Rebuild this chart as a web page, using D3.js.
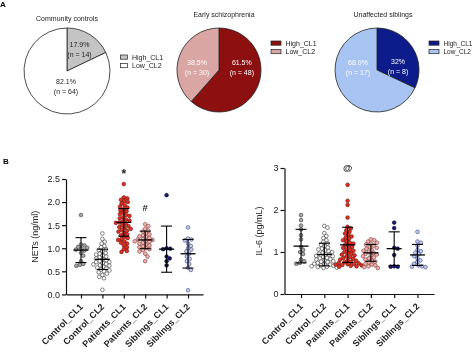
<!DOCTYPE html>
<html><head><meta charset="utf-8">
<script src="https://cdn.jsdelivr.net/npm/d3@7"></script>
<style>
body{margin:0;background:#fff}
svg{display:block;font-family:"Liberation Sans",Arial,Helvetica,sans-serif;will-change:transform}
</style>
</head><body>
<svg id="chart" width="474" height="356"></svg>
<script>
// ---------------- DATA ----------------
const pieTitles = ["Community controls", "Early schizophrenia", "Unaffected siblings"];
const pieHigh = [17.9, 61.5, 32.0];
const pieLow = [82.1, 38.5, 68.0];
const pieHighLabel = ["17.9%", "61.5%", "32%"];
const pieLowLabel = ["82.1%", "38.5%", "68.0%"];
const pieHighN = [14, 48, 8];
const pieLowN = [64, 30, 17];
const legendLabels = ["High_CL1", "Low_CL2"];

const categories = ["Control_CL1", "Control_CL2", "Patients_CL1", "Patients_CL2", "Siblings_CL1", "Siblings_CL2"];

const netsControlCL1 = [1.72, 1.08, 1.06, 1.03, 1.01, 0.99, 0.97, 0.95, 0.90, 0.84, 0.72, 0.66, 0.64, 0.62];
const netsControlCL2 = [1.32, 1.20, 1.14, 1.10, 1.05, 1.02, 0.98, 0.96, 0.93, 0.90, 0.88, 0.86, 0.84, 0.82, 0.80, 0.78, 0.76, 0.74, 0.72, 0.70, 0.70, 0.68, 0.66, 0.65, 0.63, 0.62, 0.60, 0.58, 0.56, 0.54, 0.52, 0.50, 0.48, 0.45, 0.42, 0.38, 0.35, 0.10];
const netsPatientsCL1 = [2.39, 2.10, 2.08, 2.05, 2.02, 2.00, 1.97, 1.93, 1.90, 1.88, 1.85, 1.82, 1.80, 1.77, 1.74, 1.72, 1.70, 1.67, 1.65, 1.62, 1.60, 1.58, 1.56, 1.55, 1.53, 1.50, 1.48, 1.46, 1.44, 1.42, 1.40, 1.38, 1.36, 1.33, 1.30, 1.28, 1.25, 1.22, 1.20, 1.18, 1.15, 1.12, 1.10, 1.06, 1.02, 0.98, 0.94, 0.92];
const netsPatientsCL2 = [1.52, 1.48, 1.42, 1.38, 1.36, 1.32, 1.30, 1.28, 1.26, 1.24, 1.22, 1.20, 1.19, 1.18, 1.16, 1.15, 1.14, 1.12, 1.10, 1.08, 1.06, 1.04, 1.02, 1.00, 0.98, 0.96, 0.93, 0.88, 0.82, 0.72];
const netsSiblingsCL1 = [2.15, 1.00, 0.99, 0.98, 0.82, 0.78, 0.72, 0.63];
const netsSiblingsCL2 = [1.45, 1.21, 1.19, 1.17, 1.10, 1.05, 1.00, 0.97, 0.93, 0.88, 0.82, 0.77, 0.72, 0.66, 0.58, 0.53, 0.09];
const netsMean = [0.96, 0.76, 1.56, 1.18, 0.98, 0.88];
const netsSD = [0.27, 0.22, 0.30, 0.19, 0.50, 0.31];
const netsMarks = ["", "", "*", "#", "", ""];
const netsTicks = [0, 0.5, 1.0, 1.5, 2.0, 2.5];

const il6ControlCL1 = [1.88, 1.76, 1.63, 1.54, 1.40, 1.30, 1.12, 1.05, 1.00, 0.95, 0.82, 0.78, 0.74, 0.72];
const il6ControlCL2 = [1.62, 1.58, 1.45, 1.38, 1.33, 1.28, 1.24, 1.20, 1.17, 1.14, 1.11, 1.08, 1.06, 1.04, 1.02, 1.00, 0.98, 0.96, 0.94, 0.93, 0.91, 0.90, 0.88, 0.86, 0.85, 0.83, 0.82, 0.80, 0.78, 0.77, 0.76, 0.74, 0.72, 0.71, 0.70, 0.68, 0.67, 0.66, 0.65, 0.64, 0.63, 0.62];
const il6PatientsCL1 = [2.60, 2.22, 2.12, 1.82, 1.60, 1.56, 1.52, 1.48, 1.44, 1.40, 1.37, 1.34, 1.31, 1.28, 1.25, 1.22, 1.20, 1.17, 1.14, 1.12, 1.10, 1.07, 1.05, 1.03, 1.00, 0.98, 0.96, 0.94, 0.92, 0.90, 0.88, 0.86, 0.84, 0.82, 0.80, 0.79, 0.77, 0.76, 0.74, 0.73, 0.72, 0.71, 0.70, 0.69, 0.68, 0.67, 0.66, 0.65];
const il6PatientsCL2 = [1.30, 1.28, 1.25, 1.22, 1.20, 1.18, 1.15, 1.12, 1.10, 1.08, 1.05, 1.03, 1.00, 0.98, 0.96, 0.94, 0.92, 0.90, 0.87, 0.85, 0.82, 0.80, 0.77, 0.75, 0.72, 0.70, 0.68, 0.66, 0.64, 0.62];
const il6SiblingsCL1 = [1.70, 1.57, 1.10, 1.08, 0.93, 0.66, 0.65, 0.65];
const il6SiblingsCL2 = [1.48, 1.25, 1.22, 1.15, 1.05, 1.02, 0.98, 0.95, 0.90, 0.85, 0.80, 0.76, 0.72, 0.68, 0.66, 0.65, 0.64];
const il6Mean = [1.14, 0.94, 1.17, 0.98, 1.08, 0.93];
const il6SD = [0.40, 0.27, 0.42, 0.20, 0.40, 0.25];
const il6Marks = ["", "", "@", "", "", ""];
const il6Ticks = [0, 1, 2, 3];

// ---------------- STYLE ----------------
const pieColors = [["#c4c4c4", "#ffffff"], ["#8c1010", "#d9a6a4"], ["#0c1c8a", "#a8c4f2"]];
const pieTextColor = ["#222", "#fff", "#fff"];
const groupFill = ["#a9a9a9", "#ffffff", "#e2301e", "#f0b3ae", "#15186a", "#c2cdef"];
const groupStroke = ["#333", "#333", "#6a0f0f", "#7a3a3a", "#0a0a40", "#3a467e"];
const markStyle = {"*": {size: 12, off: 6}, "#": {size: 9.5, off: 13}, "@": {size: 9.5, off: 14}};

const svg = d3.select("#chart");

// ---------------- PANEL A: pies ----------------
const pieLayout = [
  {cx: 67, cy: 71, r: 43, tx: 67, ty: 21, lx: 120.5, ly: 55, bw: 7, fs: 7},
  {cx: 219, cy: 70, r: 42, tx: 224, ty: 17, lx: 271, ly: 41, bw: 10, fs: 7},
  {cx: 377, cy: 70, r: 42, tx: 383, ty: 17, lx: 429, ly: 41, bw: 10, fs: 6.5}
];
// label anchor in polar form (degrees from top, fraction of radius)
const labelPolar = [[[29, 0.6], [184, 0.33]], [[81, 0.55], [279, 0.53]], [[79, 0.51], [280, 0.46]]];
const pie = d3.pie().sort(null).value(d => d);

svg.append("text").attr("x", 0).attr("y", 7).attr("font-size", 8).attr("font-weight", "bold").text("A");

pieTitles.forEach((t, i) => {
  const L = pieLayout[i];
  const R = L.r;
  const arc = d3.arc().innerRadius(0).outerRadius(R);
  const g = svg.append("g").attr("transform", `translate(${L.cx},${L.cy})`);
  const vals = [pieHigh[i], pieLow[i]];
  g.selectAll("path").data(pie(vals)).join("path")
    .attr("d", arc).attr("fill", (d, j) => pieColors[i][j])
    .attr("stroke", "#222").attr("stroke-width", 0.8);
  const labs = [[pieHighLabel[i], `(n = ${pieHighN[i]})`], [pieLowLabel[i], `(n = ${pieLowN[i]})`]];
  labs.forEach((lb, j) => {
    const [ang, fr] = labelPolar[i][j];
    const a = ang * Math.PI / 180;
    const x = Math.sin(a) * R * fr, y = -Math.cos(a) * R * fr;
    const tx = g.append("text").attr("text-anchor", "middle").attr("font-size", 7)
      .attr("fill", pieTextColor[i]);
    tx.append("tspan").attr("x", x).attr("y", y - 1.5).text(lb[0]);
    tx.append("tspan").attr("x", x).attr("y", y + 8.5).text(lb[1]);
  });
  svg.append("text").attr("x", L.tx).attr("y", L.ty).attr("text-anchor", "middle")
    .attr("font-size", 7).attr("fill", "#222").text(t);
  legendLabels.forEach((lt, j) => {
    svg.append("rect").attr("x", L.lx).attr("y", L.ly + j * 8.5).attr("width", L.bw).attr("height", 4.2)
      .attr("fill", pieColors[i][j]).attr("stroke", "#222").attr("stroke-width", 0.7);
    svg.append("text").attr("x", L.lx + L.bw + 4.5).attr("y", L.ly + j * 8.5 + 4.6)
      .attr("font-size", L.fs).attr("fill", "#222").text(lt);
  });
});

// ---------------- PANEL B: scatter dot plots ----------------
svg.append("text").attr("x", 3).attr("y", 164).attr("font-size", 8).attr("font-weight", "bold").text("B");

function swarm(values, y, d) {
  const placed = [];
  const pts = values.map(v => ({v, y: y(v)})).sort((a, b) => a.y - b.y);
  for (const p of pts) {
    const near = placed.filter(q => Math.abs(q.y - p.y) < d);
    const cands = [0];
    near.forEach(q => {
      const dx = Math.sqrt(d * d - (q.y - p.y) ** 2);
      cands.push(q.x + dx, q.x - dx);
    });
    cands.sort((a, b) => Math.abs(a) - Math.abs(b));
    p.x = 0;
    for (const c of cands) {
      if (near.every(q => (q.x - c) ** 2 + (q.y - p.y) ** 2 >= d * d - 1e-6)) { p.x = c; break; }
    }
    placed.push(p);
  }
  return placed;
}

function dotPlot(cfg) {
  const g = svg.append("g");
  const y = d3.scaleLinear().domain([0, cfg.ticks[cfg.ticks.length - 1]]).range([cfg.y0, cfg.y1]);
  const x = d3.scalePoint().domain(categories).range([cfg.x0, cfg.x1]).padding(cfg.pad);

  // points
  cfg.groups.forEach((vals, i) => {
    const pts = swarm(vals, y, 3.6);
    g.append("g").selectAll("circle").data(pts).join("circle")
      .attr("cx", d => x(categories[i]) + d.x).attr("cy", d => d.y).attr("r", 1.85)
      .attr("fill", groupFill[i]).attr("stroke", groupStroke[i]).attr("stroke-width", 0.6);
  });
  // mean & SD
  categories.forEach((c, i) => {
    const cx = x(c), m = cfg.mean[i], s = cfg.sd[i];
    const eg = g.append("g").attr("stroke", "#000").attr("fill", "none");
    eg.append("line").attr("x1", cx - 7.5).attr("x2", cx + 7.5).attr("y1", y(m)).attr("y2", y(m)).attr("stroke-width", 1.3);
    eg.append("line").attr("x1", cx).attr("x2", cx).attr("y1", y(m - s)).attr("y2", y(m + s)).attr("stroke-width", 1.1);
    [m - s, m + s].forEach(v => eg.append("line").attr("x1", cx - 5.5).attr("x2", cx + 5.5)
      .attr("y1", y(v)).attr("y2", y(v)).attr("stroke-width", 1.1));
    const mk = cfg.marks[i];
    if (mk) {
      const st = markStyle[mk];
      g.append("text").attr("x", cx).attr("y", y(d3.max(cfg.groups[i])) - st.off)
        .attr("text-anchor", "middle").attr("font-size", st.size).attr("font-weight", "bold")
        .attr("fill", "#222").text(mk);
    }
  });
  // axes
  const ya = g.append("g").attr("transform", `translate(${cfg.x0},0)`)
    .call(d3.axisLeft(y).tickValues(cfg.ticks).tickFormat(cfg.fmt).tickSize(4).tickSizeOuter(0).tickPadding(2));
  ya.selectAll("text").attr("font-size", 9).attr("fill", "#222").attr("font-family", null);
  const xa = g.append("g").attr("transform", `translate(0,${cfg.y0})`)
    .call(d3.axisBottom(x).tickSize(4).tickSizeOuter(0));
  xa.selectAll("text").attr("font-size", 9).attr("font-weight", "bold").attr("fill", "#222")
    .attr("font-family", null).attr("text-anchor", "end")
    .attr("transform", "translate(2,13) rotate(-45)").attr("dy", 0).attr("y", 0).attr("x", 0);
  [ya, xa].forEach(a => { a.selectAll("path,line").attr("stroke", "#111").attr("stroke-width", 1.2); });
  svg.append("text").attr("transform", `translate(${cfg.labelX},${(cfg.y0 + cfg.y1) / 2}) rotate(-90)`)
    .attr("text-anchor", "middle").attr("font-size", 9).attr("fill", "#222").text(cfg.label);
}

dotPlot({
  groups: [netsControlCL1, netsControlCL2, netsPatientsCL1, netsPatientsCL2, netsSiblingsCL1, netsSiblingsCL2],
  mean: netsMean, sd: netsSD, marks: netsMarks, ticks: netsTicks, fmt: d3.format(".1f"),
  x0: 66, x1: 203, pad: 0.7, y0: 294.4, y1: 179, labelX: 38, label: "NETs (ng/ml)"
});
dotPlot({
  groups: [il6ControlCL1, il6ControlCL2, il6PatientsCL1, il6PatientsCL2, il6SiblingsCL1, il6SiblingsCL2],
  mean: il6Mean, sd: il6SD, marks: il6Marks, ticks: il6Ticks, fmt: d3.format("d"),
  x0: 284.5, x1: 434, pad: 0.71, y0: 294, y1: 168, labelX: 262, label: "IL-6 (pg/mL)"
});
</script>
</body></html>
